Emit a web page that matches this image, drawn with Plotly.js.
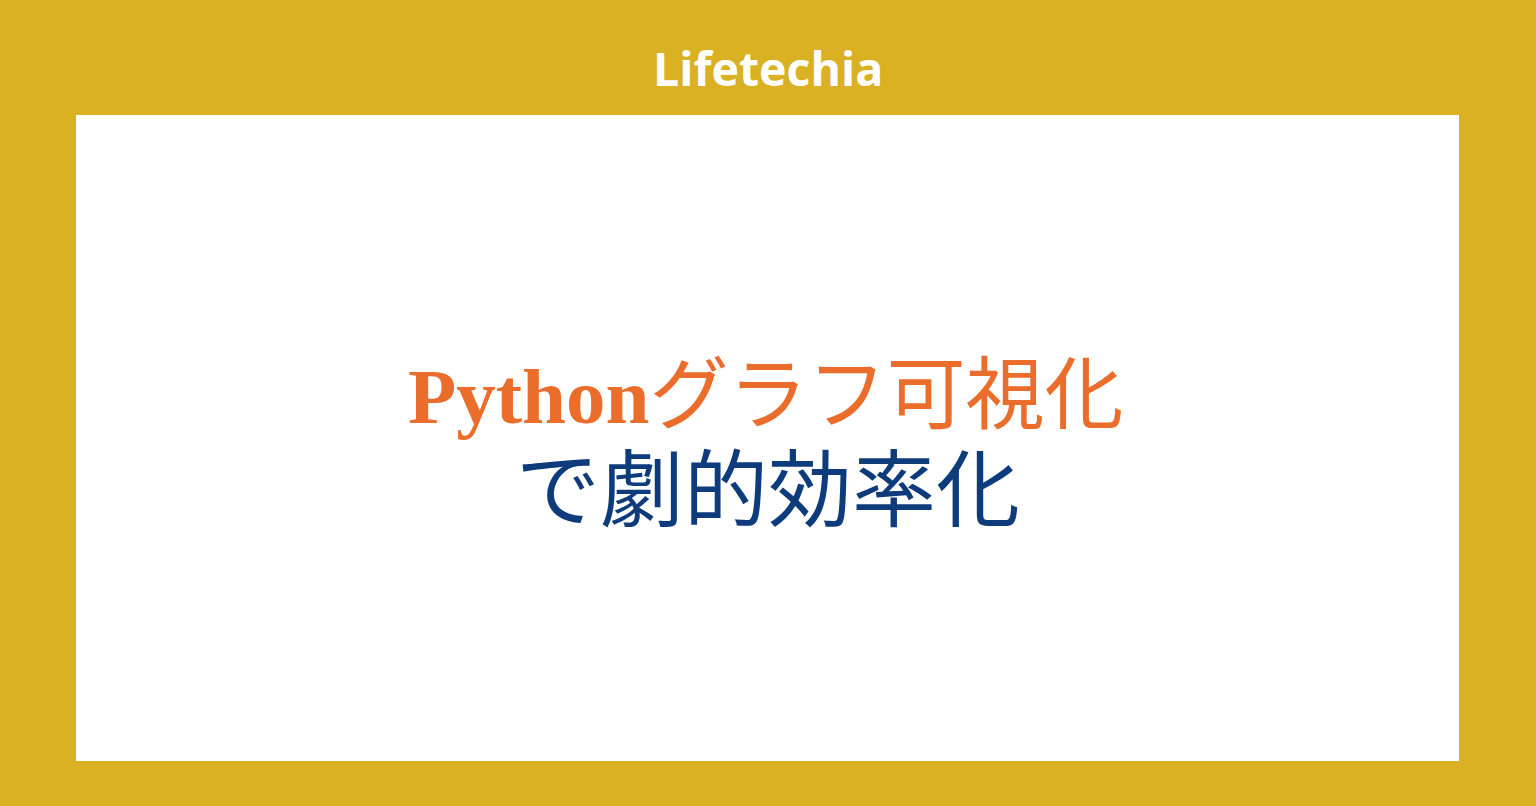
<!DOCTYPE html>
<html>
<head>
<meta charset="utf-8">
<script src="https://cdn.plot.ly/plotly-3.0.1.min.js"></script>
<style>
  html, body { margin: 0; padding: 0; background: #DAB122; }
  #banner { width: 1536px; height: 806px; }
</style>
</head>
<body>
<div id="banner"></div>
<script>
// texts of the banner
var siteName = ["Lifetechia"];
var titleLatin = ["Python"];
var titleJp = ["グラフ可視化"];
var subTitle = ["で劇的効率化"];

var gold = "#DAB122";
var orange = "#EA6D2B";
var navy = "#0E3B7C";

var layout =
{
    width: 1536,
    height: 806,
    margin: {l: 0, r: 0, t: 0, b: 0},
    paper_bgcolor: gold,
    plot_bgcolor: gold,
    showlegend: false,
    xaxis: {range: [0, 1536], visible: false, fixedrange: true},
    yaxis: {range: [806, 0], visible: false, fixedrange: true},
    shapes: [
        {
            type: "rect", xref: "x", yref: "y",
            x0: 76, x1: 1459, y0: 115, y1: 761,
            fillcolor: "#ffffff", line: {width: 0}, layer: "below"
        }
    ],
    annotations: [
        {
            xref: "x", yref: "y", x: 768, y: 68,
            text: "<b>" + siteName[0] + "</b>",
            showarrow: false,
            font: {family: "Open Sans, Noto Sans, sans-serif", size: 46.5, color: "#ffffff"}
        },
        {
            xref: "x", yref: "y", x: 765, y: 396,
            text: "<b>" + titleLatin[0] + "</b>" + titleJp[0],
            showarrow: false,
            font: {family: "Liberation Serif, Noto Sans CJK JP, serif", size: 79, color: orange}
        },
        {
            xref: "x", yref: "y", x: 768, y: 491,
            text: subTitle[0],
            showarrow: false,
            font: {family: "Liberation Serif, Noto Sans CJK JP, serif", size: 84, color: navy}
        }
    ]
};

Plotly.newPlot('banner', [], layout, {displayModeBar: false, staticPlot: true});
</script>
</body>
</html>
